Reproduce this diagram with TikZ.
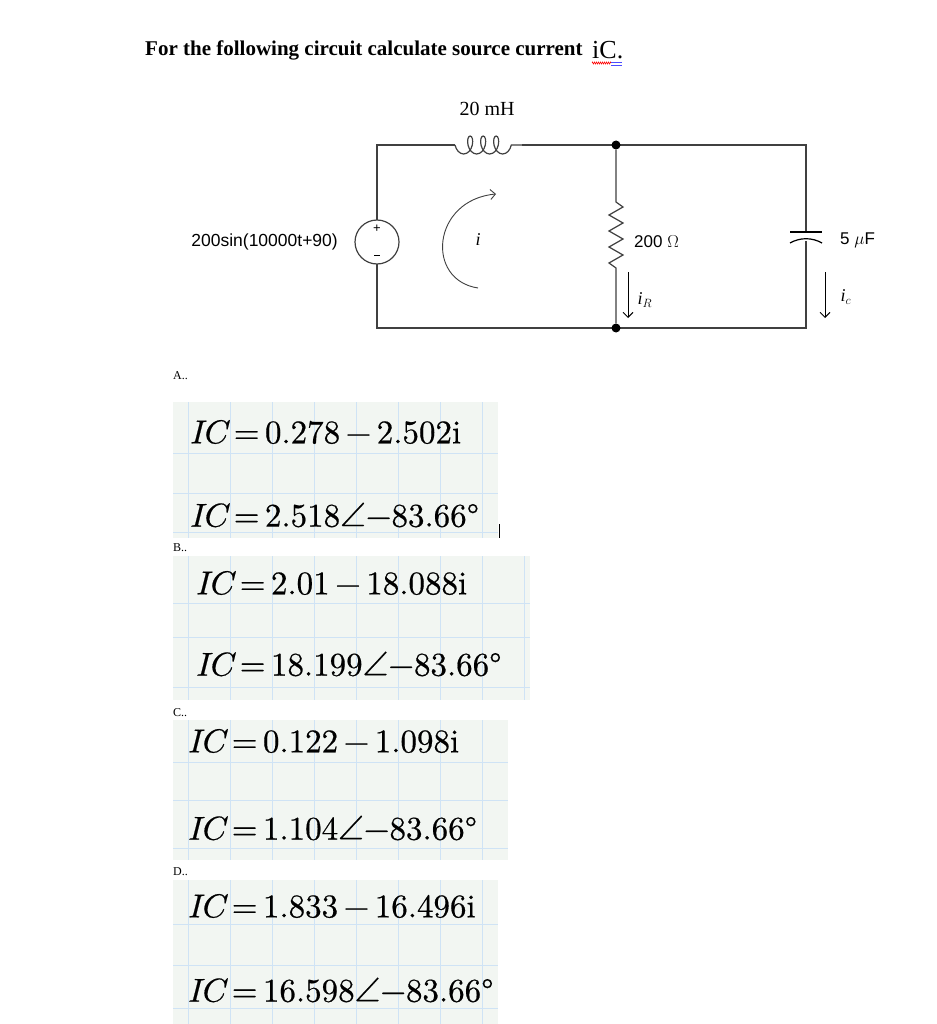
\documentclass[tikz,border=0pt]{standalone}
\usepackage{fontspec}
\setmainfont{Liberation Serif}
\newfontfamily\sfont{Liberation Sans}
\newfontfamily\lmm[FakeBold=0.5]{Latin Modern Math}
\usetikzlibrary{decorations.pathmorphing,arrows.meta}
\definecolor{gridbg}{HTML}{F2F6F2}
\definecolor{gridln}{HTML}{CFE3F5}
\tikzset{
  wire/.style={line width=1.2pt,draw=black!75},
  eqtext/.style={anchor=west,font=\lmm\fontsize{33}{38}\selectfont,inner sep=0},
  optlabel/.style={anchor=west,font=\fontsize{12}{14}\selectfont,inner sep=0},
  clabel/.style={font=\sfont\fontsize{17.5}{19}\selectfont,inner sep=0},
  cur/.style={font=\itshape\fontsize{18}{20}\selectfont,inner sep=0},
  dot/.style={circle,fill=black,inner sep=0,minimum size=9pt},
  curarrow/.style={-{Straight Barb[length=5pt]},line width=0.9pt}
}
\newcommand{\panel}[4]{%
  \fill[gridbg] (#1,#2) rectangle (#3,#4);
  \begin{scope}
  \clip (#1,#2) rectangle (#3,#4);
  \foreach \gx in {0,...,10} \draw[gridln,line width=0.8pt] ({#1+15+42*\gx},#2) -- ({#1+15+42*\gx},#4);
  \end{scope}
}
\newcommand{\hgrid}[3]{\draw[gridln,line width=0.8pt] (#1,#3) -- (#2,#3);}
\newcommand{\ICeq}{𝐼𝐶\,=\,}
\begin{document}
\begin{tikzpicture}[x=1pt,y=-1pt]
\useasboundingbox[fill=white] (0,0) rectangle (936,1024);
% title
\node[anchor=base west,inner sep=0,font=\bfseries\fontsize{21}{24}\selectfont] (title) at (145,56) {For the following circuit calculate source current};
\node[anchor=base west,inner sep=0,font=\fontsize{26}{28}\selectfont] (ic) at (592,59) {iC.};
\draw[red,line width=0.5pt,decorate,decoration={zigzag,amplitude=1pt,segment length=2pt}] (592,63) -- (611,63);
\draw[blue!70,line width=0.8pt] (611,62) -- (622,62) (611,65) -- (622,65);
% circuit
\draw[wire] (377,220) -- (377,145) -- (455,145);
\draw[wire,decorate,decoration={coil,aspect=0.6,amplitude=9pt,segment length=13pt,mirror}] (455,145) -- (522,145);
\draw[wire] (522,145) -- (806,145) -- (806,232);
\draw[wire] (806,241) -- (806,328) -- (377,328) -- (377,264);
\draw[wire] (377,242) circle (22);
\node[font=\sfont\fontsize{13}{13}\selectfont,inner sep=0] (plus) at (377,229) {+};
\draw[line width=1pt] (374,255) -- (380,255);
\node[clabel,anchor=east] (src) at (338,242) {200sin(10000t+90)};
\node[font=\fontsize{20}{22}\selectfont,inner sep=0] (L) at (487,109) {20 mH};
\node[dot] (n1) at (616,145) {};
\node[dot] (n2) at (616,328) {};
\draw[wire] (n1) -- (616,202) -- (623,207) -- (609,215) -- (623,223) -- (609,231) -- (623,239) -- (609,247) -- (623,255) -- (609,263) -- (616,268) -- (n2);
\node[anchor=west,font=\fontsize{17}{19}\selectfont,inner sep=0] (R) at (634,242) {\sfont 200 $\Omega$};
\draw[line width=1.8pt] (790,232) -- (822,232);
\draw[line width=1.2pt] (790,243) arc[start angle=-120,end angle=-60,radius=32];
\node[anchor=west,inner sep=0,font=\fontsize{17}{19}\selectfont] (C) at (840,240) {\sfont 5 $\mu$F};
\draw[curarrow,draw=black!75] (478,288) .. controls (425,280) and (432,200) .. (496,194);
\node[cur] (i) at (478,240) {i};
\draw[curarrow] (628,272) -- (628,318);
\node[cur] (iR) at (645,300) {i$_R$};
\draw[curarrow] (825,272) -- (825,318);
\node[cur] (iC) at (846,297) {i$_c$};
% options
\node[optlabel] (A) at (173,376) {A..};
\panel{173}{402}{498}{538}
\hgrid{173}{498}{453}\hgrid{173}{498}{493}\hgrid{173}{498}{532}
\node[eqtext] (a1) at (190,432) {\ICeq 0.278\,−\,2.502i};
\node[eqtext] (a2) at (190,515) {\ICeq 2.518∠−83.66°};
\draw[line width=1pt] (499,524) -- (499,538);
\node[optlabel] (B) at (173,548) {B..};
\panel{173}{556}{530}{700}
\hgrid{173}{530}{603}\hgrid{173}{530}{637}\hgrid{173}{530}{687}
\node[eqtext] (b1) at (196,583) {\ICeq 2.01\,−\,18.088i};
\node[eqtext] (b2) at (196,664) {\ICeq 18.199∠−83.66°};
\node[optlabel] (Cc) at (173,713) {C..};
\panel{173}{720}{508}{860}
\hgrid{173}{508}{762}\hgrid{173}{508}{800}\hgrid{173}{508}{848}
\node[eqtext] (c1) at (188,741) {\ICeq 0.122\,−\,1.098i};
\node[eqtext] (c2) at (188,828) {\ICeq 1.104∠−83.66°};
\node[optlabel] (D) at (173,872) {D..};
\panel{173}{880}{498}{1024}
\hgrid{173}{498}{924}\hgrid{173}{498}{965}\hgrid{173}{498}{1008}
\node[eqtext] (d1) at (188,906) {\ICeq 1.833\,−\,16.496i};
\node[eqtext] (d2) at (188,990) {\ICeq 16.598∠−83.66°};
\end{tikzpicture}
\end{document}
